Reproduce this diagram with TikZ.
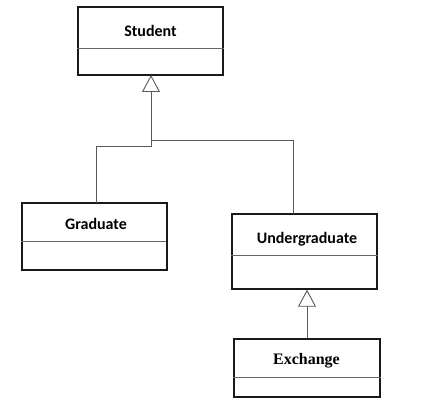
\documentclass[tikz,border=0pt]{standalone}
\usepackage{fontspec}
\setmainfont{Carlito}
\newfontfamily\timesfont{Liberation Serif}
\usetikzlibrary{arrows.meta}
\begin{document}
\begin{tikzpicture}[x=1pt,y=-1pt,
  classbox/.style={draw=black!90,line width=1.4pt,rectangle,inner sep=0pt},
  divider/.style={draw=black!60,line width=0.9pt},
  conn/.style={draw=black!65,line width=1pt},
  gen/.style={conn,-{Triangle[open,length=17pt,width=18pt,line width=0.9pt]}},
  lbl/.style={font=\fontsize{16}{19}\selectfont\bfseries,inner sep=0pt}]
\useasboundingbox (0,0) rectangle (440,420);
\fill[white] (0,0) rectangle (440,420);
% boxes
\node[classbox,minimum width=145pt,minimum height=68pt] (student) at (150.5,41) {};
\node[classbox,minimum width=145pt,minimum height=67pt] (grad) at (94.5,236.5) {};
\node[classbox,minimum width=145pt,minimum height=75pt] (under) at (304.5,251.5) {};
\node[classbox,minimum width=146pt,minimum height=58pt] (exch) at (307,368) {};
% labels
\node[lbl] (tstudent) at (150.5,31) {Student};
\node[lbl] (tgrad) at (96,224) {Graduate};
\node[lbl] (tunder) at (307,239) {Undergraduate};
\node[lbl,font=\fontsize{16}{19}\selectfont\timesfont\bfseries] (texch) at (306.5,361) {Exchange};
% dividers
\draw[divider] (student.west |- 0,48) -- (student.east |- 0,48);
\draw[divider] (grad.west |- 0,241) -- ([xshift=-2pt]grad.east |- 0,241);
\draw[divider] (under.west |- 0,255) -- (under.east |- 0,255);
\draw[divider] (exch.west |- 0,377) -- (exch.east |- 0,377);
% connectors
\coordinate (gtop) at (96,203);
\coordinate (j1) at (151,147);
\coordinate (j2) at (151,141);
\coordinate (utop) at (293,214);
\coordinate (stip) at (151,75);
\draw[gen] (gtop) |- (j1) -- (stip);
\draw[conn] (utop) |- (j2);
\draw[gen] (exch.north -| 307,0) -- (under.south -| 307,0);
\end{tikzpicture}
\end{document}
